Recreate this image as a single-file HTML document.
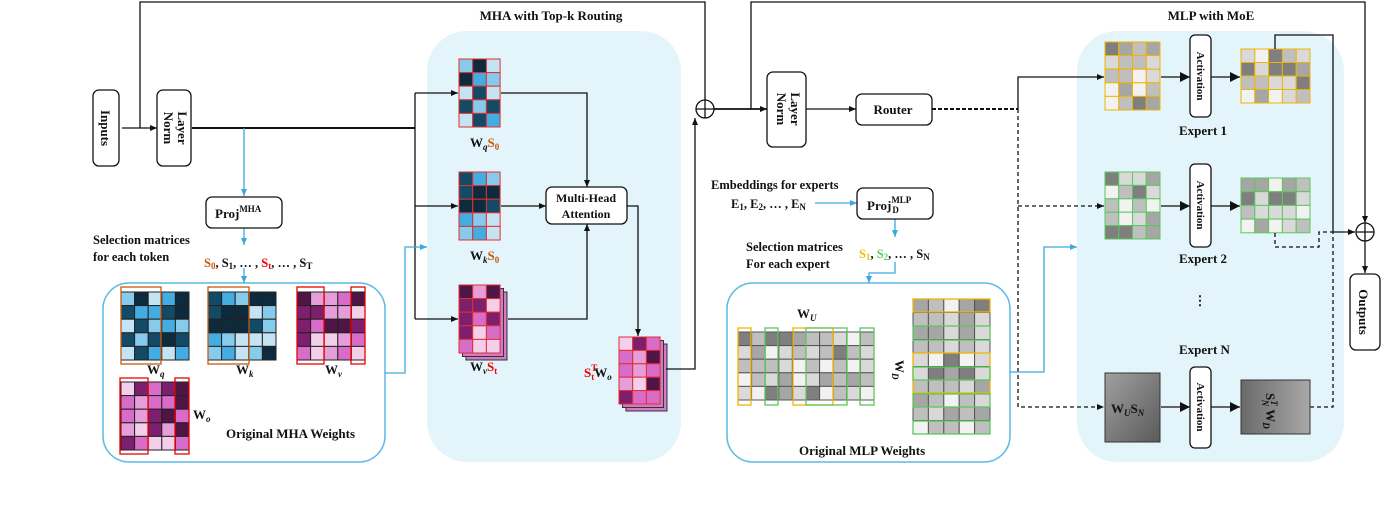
<!DOCTYPE html>
<html><head><meta charset="utf-8"><style>
html,body{margin:0;padding:0;background:#fff;}
svg{display:block;}
text{font-family:"Liberation Serif",serif;font-weight:bold;fill:#111;}
</style></head><body>
<svg id="s" width="1387" height="510" viewBox="0 0 1387 510" xmlns="http://www.w3.org/2000/svg">
<defs>
<marker id="a" markerWidth="8" markerHeight="8" refX="7" refY="4" orient="auto" markerUnits="userSpaceOnUse"><path d="M0,1 L7,4 L0,7 z" fill="#111"/></marker>
<marker id="ab" markerWidth="8" markerHeight="8" refX="7" refY="4" orient="auto" markerUnits="userSpaceOnUse"><path d="M0,1 L7,4 L0,7 z" fill="#3aa9e0"/></marker>
<marker id="a2" markerWidth="11" markerHeight="11" refX="10" refY="5" orient="auto" markerUnits="userSpaceOnUse"><path d="M0,0 L10,5 L0,10 z" fill="#111"/></marker>
<linearGradient id="g1" x1="0" y1="0" x2="1" y2="1"><stop offset="0" stop-color="#a0a0a0"/><stop offset="1" stop-color="#5a5a5a"/></linearGradient>
<linearGradient id="g2" x1="0" y1="0" x2="1" y2="0"><stop offset="0" stop-color="#6a6a6a"/><stop offset="1" stop-color="#a8a8a8"/></linearGradient>
</defs>
<!-- regions -->
<rect x="427" y="31" width="254" height="431" rx="40" fill="#e4f4fb"/>
<rect x="1077" y="31" width="267" height="431" rx="40" fill="#e4f4fb"/>
<rect x="103" y="283" width="282" height="179" rx="26" fill="#fff" stroke="#5ab8e6" stroke-width="1.5"/>
<rect x="727" y="283" width="283" height="179" rx="26" fill="#fff" stroke="#5ab8e6" stroke-width="1.5"/>
<g id="grids"></g>
<g fill="none" stroke="#111" stroke-width="1.3">
<!-- top lines -->
<path d="M140,128 V2 H705 V100"/>
<path d="M751,109 V2 H1365 V223" marker-end="url(#a)"/>
<path d="M122,128 H157" marker-end="url(#a)"/>
<path d="M192,128 H415" stroke-width="2"/>
<path d="M415,93 V319"/>
<path d="M415,93 H458" marker-end="url(#a)"/>
<path d="M415,206 H458" marker-end="url(#a)"/>
<path d="M415,319 H458" marker-end="url(#a)"/>
<path d="M501,93 H587 V187" marker-end="url(#a)"/>
<path d="M501,206 H546" marker-end="url(#a)"/>
<path d="M508,319 H587 V224" marker-end="url(#a)"/>
<path d="M627,206 H638 V336" marker-end="url(#a)"/>
<path d="M666,369 H695 V118" marker-end="url(#a)"/>
<path d="M714,109 H767" marker-end="url(#a)" stroke-width="1.8"/>
<path d="M806,109 H856" marker-end="url(#a)"/>
<path d="M1018,109 V77 H1104" marker-end="url(#a)"/>
<path d="M932,109 H1018" stroke-dasharray="4,2" stroke-width="2"/>
<path d="M1018,109 V407 H1104" stroke-dasharray="4,3" marker-end="url(#a)"/>
<path d="M1018,206 H1104" stroke-dasharray="4,3" marker-end="url(#a)"/>
<path d="M1161,77 H1190" marker-end="url(#a2)"/>
<path d="M1211,77 H1240" marker-end="url(#a2)"/>
<path d="M1161,206 H1190" marker-end="url(#a2)"/>
<path d="M1211,206 H1240" marker-end="url(#a2)"/>
<path d="M1161,407 H1190" marker-end="url(#a2)"/>
<path d="M1211,407 H1240" marker-end="url(#a2)"/>
<path d="M1275,49 V35 H1333 V232 H1355" marker-end="url(#a)"/>
<path d="M1275,233 V247 H1319 V232 H1333" stroke-dasharray="4,3"/>
<path d="M1310,407 H1333 V232" stroke-dasharray="4,3"/>
<path d="M1365,241 V273" marker-end="url(#a)"/>
</g>
<g fill="none" stroke="#3aa9e0" stroke-width="1.3">
<path d="M244,128 V196" marker-end="url(#ab)"/>
<path d="M244,228 V245" marker-end="url(#ab)"/>
<path d="M244,268 V283" marker-end="url(#ab)"/>
<path d="M385,373 H405 V247 H427" marker-end="url(#ab)"/>
<path d="M815,203 H857" marker-end="url(#ab)"/>
<path d="M895,219 V237" marker-end="url(#ab)"/>
<path d="M895,262 V273 H869 V283" marker-end="url(#ab)"/>
<path d="M1010,372 H1044 V247 H1077" marker-end="url(#ab)"/>
</g>
<!-- circles -->
<g fill="#fff" stroke="#111" stroke-width="1.3">
<circle cx="705" cy="109" r="9"/><circle cx="1365" cy="232" r="9"/>
</g>
<path d="M696,109 H714 M705,100 V118 M1356,232 H1374 M1365,223 V241" stroke="#111" stroke-width="1.3"/>
<!-- boxes -->
<g fill="#fff" stroke="#111" stroke-width="1.3">
<rect x="93" y="90" width="26" height="76" rx="6"/>
<rect x="157" y="90" width="34" height="76" rx="6"/>
<rect x="206" y="197" width="76" height="31" rx="6"/>
<rect x="546" y="187" width="81" height="37" rx="6"/>
<rect x="767" y="72" width="39" height="75" rx="6"/>
<rect x="856" y="94" width="76" height="31" rx="6"/>
<rect x="857" y="188" width="76" height="31" rx="6"/>
<rect x="1190" y="35" width="21" height="82" rx="5"/>
<rect x="1190" y="164" width="21" height="83" rx="5"/>
<rect x="1190" y="367" width="21" height="81" rx="5"/>
<rect x="1350" y="274" width="30" height="76" rx="6"/>
</g>
<rect x="1105" y="373" width="55" height="69" fill="url(#g1)" stroke="#333"/>
<rect x="1241" y="380" width="69" height="54" fill="url(#g2)" stroke="#333"/>
<!-- vertical text -->
<g font-size="13">
<text transform="translate(101,128) rotate(90)" text-anchor="middle">Inputs</text>
<text transform="translate(178,128) rotate(90)" text-anchor="middle">Layer</text>
<text transform="translate(164,128) rotate(90)" text-anchor="middle">Norm</text>
<text transform="translate(791,109) rotate(90)" text-anchor="middle">Layer</text>
<text transform="translate(777,109) rotate(90)" text-anchor="middle">Norm</text>
<text transform="translate(1359,312) rotate(90)" text-anchor="middle">Outputs</text>
</g>
<g font-size="11">
<text transform="translate(1197,76) rotate(90)" text-anchor="middle">Activation</text>
<text transform="translate(1197,205) rotate(90)" text-anchor="middle">Activation</text>
<text transform="translate(1197,407) rotate(90)" text-anchor="middle">Activation</text>
</g>
<g font-size="13">
<text x="551" y="20" text-anchor="middle">MHA with Top-k Routing</text>
<text x="1211" y="20" text-anchor="middle">MLP with MoE</text>
<text x="893" y="114" text-anchor="middle">Router</text>
<text x="586" y="202" text-anchor="middle" font-size="12">Multi-Head</text>
<text x="586" y="218" text-anchor="middle" font-size="12">Attention</text>
<text x="215" y="218">Proj<tspan font-size="9" dy="-6">MHA</tspan></text>
<text x="867" y="210">Proj<tspan font-size="9" dy="-7">MLP</tspan><tspan font-size="9" dx="-19" dy="10">D</tspan></text>
<text x="93" y="244" font-size="12.5">Selection matrices</text>
<text x="93" y="261" font-size="12.5">for each token</text>
<text x="204" y="267" font-size="12.5"><tspan fill="#c55a11">S<tspan font-size="9" dy="2">0</tspan></tspan><tspan dy="-2">, S</tspan><tspan font-size="9" dy="2">1</tspan><tspan dy="-2">, … , </tspan><tspan fill="#e00">S<tspan font-size="9" dy="2">t</tspan></tspan><tspan dy="-2">, … , S</tspan><tspan font-size="9" dy="2">T</tspan></text>
<text x="711" y="189" font-size="12.5">Embeddings for experts</text>
<text x="731" y="208" font-size="12.5">E<tspan font-size="9" dy="2">1</tspan><tspan dy="-2">, E</tspan><tspan font-size="9" dy="2">2</tspan><tspan dy="-2">, … , E</tspan><tspan font-size="9" dy="2">N</tspan></text>
<text x="746" y="251" font-size="12.5">Selection matrices</text>
<text x="746" y="268" font-size="12.5">For each expert</text>
<text x="859" y="258" font-size="12.5"><tspan fill="#f5c000">S<tspan font-size="9" dy="2">1</tspan></tspan><tspan dy="-2">, </tspan><tspan fill="#5ad05a">S<tspan font-size="9" dy="2">2</tspan></tspan><tspan dy="-2">, … , S</tspan><tspan font-size="9" dy="2">N</tspan></text>
<text x="226" y="438">Original MHA Weights</text>
<text x="799" y="455">Original MLP Weights</text>
<text x="1179" y="135">Expert 1</text>
<text x="1179" y="263">Expert 2</text>
<text x="1179" y="354">Expert N</text>
<text x="1200" y="305" text-anchor="middle">⋮</text>
<text x="147" y="374">W<tspan font-size="9" font-style="italic" dy="3">q</tspan></text>
<text x="236" y="374">W<tspan font-size="9" font-style="italic" dy="3">k</tspan></text>
<text x="325" y="374">W<tspan font-size="9" font-style="italic" dy="3">v</tspan></text>
<text x="193" y="419">W<tspan font-size="9" font-style="italic" dy="3">o</tspan></text>
<text x="470" y="147">W<tspan font-size="9" font-style="italic" dy="3">q</tspan><tspan fill="#c55a11" dy="-3">S</tspan><tspan fill="#c55a11" font-size="9" dy="3">0</tspan></text>
<text x="470" y="260">W<tspan font-size="9" font-style="italic" dy="3">k</tspan><tspan fill="#c55a11" dy="-3">S</tspan><tspan fill="#c55a11" font-size="9" dy="3">0</tspan></text>
<text x="470" y="371">W<tspan font-size="9" font-style="italic" dy="3">v</tspan><tspan fill="#e00" dy="-3">S</tspan><tspan fill="#e00" font-size="9" dy="3">t</tspan></text>
<text x="584" y="377"><tspan fill="#e00">S</tspan><tspan fill="#e00" font-size="9" dy="-6">T</tspan><tspan fill="#e00" font-size="9" dx="-6" dy="9">t</tspan><tspan dy="-3">W</tspan><tspan font-size="9" font-style="italic" dy="3">o</tspan></text>
<text x="797" y="318">W<tspan font-size="9" font-style="italic" dy="3">U</tspan></text>
<text transform="translate(895,360) rotate(90)">W<tspan font-size="9" font-style="italic" dy="3">D</tspan></text>
<text x="1111" y="413">W<tspan font-size="9" font-style="italic" dy="3">U</tspan><tspan dy="-3">S</tspan><tspan font-size="9" font-style="italic" dy="3">N</tspan></text>
<text transform="translate(1266,393) rotate(90)">S<tspan font-size="9" font-style="italic" dy="-5">T</tspan><tspan font-size="9" font-style="italic" dx="-6" dy="9">N</tspan><tspan dy="-4"> W</tspan><tspan font-size="9" font-style="italic" dy="3">D</tspan></text>
</g>
</svg>
<script>
(function(){
var NS="http://www.w3.org/2000/svg",G=document.getElementById("grids");
function r(x,y,w,h,f,s,sw){var e=document.createElementNS(NS,"rect");e.setAttribute("x",x);e.setAttribute("y",y);e.setAttribute("width",w);e.setAttribute("height",h);e.setAttribute("fill",f);e.setAttribute("stroke",s);e.setAttribute("stroke-width",sw||1);G.appendChild(e);}
var B=["#c5e4f3","#87cbec","#43ace0","#134a66","#0d2b3d"],P=["#f3cfea","#e59ed9","#d86cc8","#7d1f6d","#4e1545"],Y=["#f2f2f2","#d9d9d9","#bfbfbf","#a6a6a6","#7f7f7f"];
function grid(x,y,c,rw,cw,ch,pal,pat,st){for(var j=0;j<rw;j++)for(var i=0;i<c;i++){var v=+pat[(j*c+i)%pat.length];r(x+i*cw,y+j*ch,cw,ch,pal[v],st,1);}}
function stack(x,y,w,h,f){r(x+7,y+7,w,h,f,"#333");r(x+3.5,y+3.5,w,h,f,"#333");}
// MHA originals
grid(121,292,5,5,13.6,13.6,B,"14024"+"32234"+"03121"+"31343"+"03202","#222");
r(121,287,40,77,"none","#c55a11",1.3);
grid(208,292,5,5,13.6,13.6,B,"32144"+"34401"+"44431"+"21000"+"12014","#222");
r(208,287,41,77,"none","#c55a11",1.3);
grid(297,292,5,5,13.6,13.6,P,"41124"+"33110"+"32443"+"30012"+"20120","#222");
r(297,287,27,77,"none","#e00",1.3);r(351,287,14,77,"none","#e00",1.3);
grid(121,382,5,5,13.6,13.6,P,"03234"+"21224"+"21342"+"10314"+"32002","#222");
r(120,378,28,76,"none","#e00",1.3);r(175,378,14,76,"none","#e00",1.3);
// routed
grid(459,59,3,5,13.7,13.6,B,"140"+"421"+"030"+"313"+"032","#e03030");
grid(459,172,3,5,13.7,13.6,B,"321"+"344"+"443"+"210"+"120","#e03030");
stack(459,285,41,68,"#d07ac8");
grid(459,285,3,5,13.7,13.6,P,"414"+"330"+"323"+"302"+"200","#e03030");
stack(619,337,41,67,"#d07ac8");
grid(619,337,3,5,13.7,13.4,P,"032"+"214"+"212"+"104"+"322","#e03030");
// experts
grid(1105,42,4,5,13.75,13.6,Y,"4323"+"1221"+"2201"+"0302"+"0243","#f0b400");
grid(1241,49,5,4,13.8,13.5,Y,"10421"+"41443"+"22114"+"03012","#f0b400");
grid(1105,172,4,5,13.75,13.4,Y,"4113"+"0241"+"2020"+"2013"+"4423","#5ac85a");
grid(1241,178,5,4,13.8,13.7,Y,"33032"+"41441"+"21110"+"03012","#5ac85a");
// MLP originals
grid(738,332,10,5,13.6,13.6,Y,"4244322102"+"1301212421"+"2221020201"+"0213013232"+"1043140210","#555");
r(738,328,13,77,"none","#f0b400",1.3);r(765,328,13,77,"none","#5ac85a",1.3);
r(793,328,40,77,"none","#f0b400",1.3);r(806,328,41,77,"none","#5ac85a",1.3);r(860,328,14,77,"none","#5ac85a",1.3);
grid(913,299,5,10,15.4,13.5,Y,"32034"+"22131"+"33131"+"22121"+"10401"+"14341"+"22213"+"32021"+"21323"+"02202","#555");
r(913,299,77,13,"none","#f0b400",1.3);r(913,326,77,14,"none","#5ac85a",1.3);
r(913,353,77,40,"none","#f0b400",1.3);r(913,367,77,13,"none","#5ac85a",1.3);
r(913,394,77,13,"none","#5ac85a",1.3);r(913,421,77,13,"none","#5ac85a",1.3);
})();
</script>
</body></html>
